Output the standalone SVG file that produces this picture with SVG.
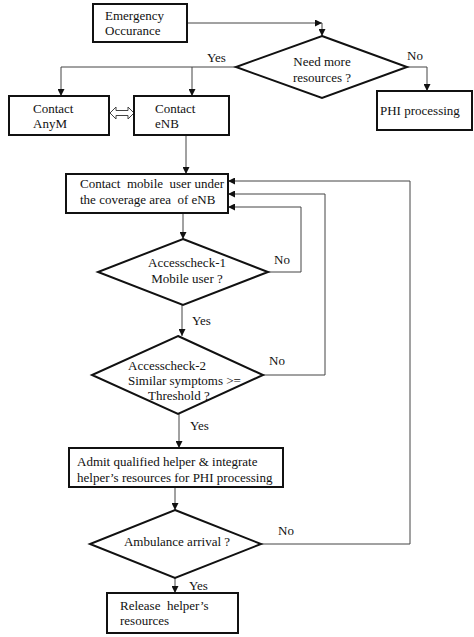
<svg xmlns="http://www.w3.org/2000/svg" width="474" height="637" viewBox="0 0 474 637">
<style>
.box{fill:#fff;stroke:#111;stroke-width:2}
.dia{fill:#fff;stroke:#111;stroke-width:2}
.t{font-family:"Liberation Serif","Times New Roman",serif;font-size:13px;fill:#111}
.c{stroke:#444;stroke-width:1;fill:none}
.m{marker-end:url(#ah)}
</style>
<defs>
<marker id="ah" viewBox="0 0 10 10" refX="10" refY="5" markerWidth="7" markerHeight="7" markerUnits="userSpaceOnUse" orient="auto">
<path d="M0,0 L10,5 L0,10 Z" fill="#111"/>
</marker>
</defs>
<rect width="474" height="637" fill="#fff"/>
<g id="connectors">
<path class="c m" d="M187,23 H322"/>
<path class="c m" d="M322,23 V36"/>
<path class="c" d="M236,67 H61"/>
<path class="c m" d="M61,67 V96"/>
<path class="c m" d="M192,67 V96"/>
<path class="c" d="M407,67 H427"/>
<path class="c m" d="M427,67 V91"/>
<path class="c m" d="M186,135 V174"/>
<polygon points="110,113 116,107 116,110.5 128,110.5 128,107 134,113 128,119 128,115.5 116,115.5 116,119" fill="#fff" stroke="#444" stroke-width="1"/>
<path class="c m" d="M183,213 V239"/>
<path class="c m" d="M268,272 H301 V207 H228"/>
<path class="c m" d="M182,305 V336"/>
<path class="c m" d="M263,375 H325 V194 H228"/>
<path class="c m" d="M179,414 V448"/>
<path class="c m" d="M175,487 V510"/>
<path class="c m" d="M261,544 H410 V181 H228"/>
<path class="c m" d="M175,578 V593"/>
</g>
<g id="emergency">
<rect class="box" x="93" y="4" width="94" height="38"/>
<text class="t" x="105" y="20">Emergency</text>
<text class="t" x="105" y="35">Occurance</text>
</g>
<g id="need-more">
<polygon class="dia" points="322,36 407,67 322,98 236,67"/>
<text class="t" x="322" y="66" text-anchor="middle">Need more</text>
<text class="t" x="322" y="82" text-anchor="middle">resources ?</text>
</g>
<g id="labels-top">
<text class="t" x="207" y="62">Yes</text>
<text class="t" x="407" y="60">No</text>
</g>
<g id="anym">
<rect class="box" x="9" y="96" width="100" height="39"/>
<text class="t" x="33" y="113">Contact</text>
<text class="t" x="33" y="128">AnyM</text>
</g>
<g id="enb">
<rect class="box" x="134" y="96" width="95" height="39"/>
<text class="t" x="155" y="113">Contact</text>
<text class="t" x="155" y="128">eNB</text>
</g>
<g id="phi">
<rect class="box" x="377" y="91" width="95" height="39"/>
<text class="t" x="380" y="115">PHI processing</text>
</g>
<g id="contact-mobile">
<rect class="box" x="66" y="174" width="162" height="39"/>
<text class="t" x="80" y="188" xml:space="preserve">Contact  mobile  user under</text>
<text class="t" x="80" y="204" xml:space="preserve">the coverage area  of eNB</text>
</g>
<g id="access1">
<polygon class="dia" points="183,239 268,272 183,305 98,272"/>
<text class="t" x="187" y="267" text-anchor="middle">Accesscheck-1</text>
<text class="t" x="187" y="283" text-anchor="middle">Mobile user ?</text>
<text class="t" x="274" y="264">No</text>
<text class="t" x="192" y="325">Yes</text>
</g>
<g id="access2">
<polygon class="dia" points="178,336 263,375 178,414 92,375"/>
<text class="t" x="128" y="370">Accesscheck-2</text>
<text class="t" x="128" y="385">Similar symptoms &gt;=</text>
<text class="t" x="148" y="400">Threshold ?</text>
<text class="t" x="269" y="365">No</text>
<text class="t" x="190" y="430">Yes</text>
</g>
<g id="admit">
<rect class="box" x="69" y="448" width="214" height="39"/>
<text class="t" x="77" y="466">Admit qualified helper &amp; integrate</text>
<text class="t" x="77" y="482">helper’s resources for PHI processing</text>
</g>
<g id="ambulance">
<polygon class="dia" points="175,510 261,544 175,578 90,544"/>
<text class="t" x="177" y="546" text-anchor="middle">Ambulance arrival ?</text>
<text class="t" x="278" y="535">No</text>
<text class="t" x="189" y="590">Yes</text>
</g>
<g id="release">
<rect class="box" x="107" y="593" width="131" height="40"/>
<text class="t" x="120" y="610" xml:space="preserve">Release  helper’s</text>
<text class="t" x="120" y="625">resources</text>
</g>
</svg>
